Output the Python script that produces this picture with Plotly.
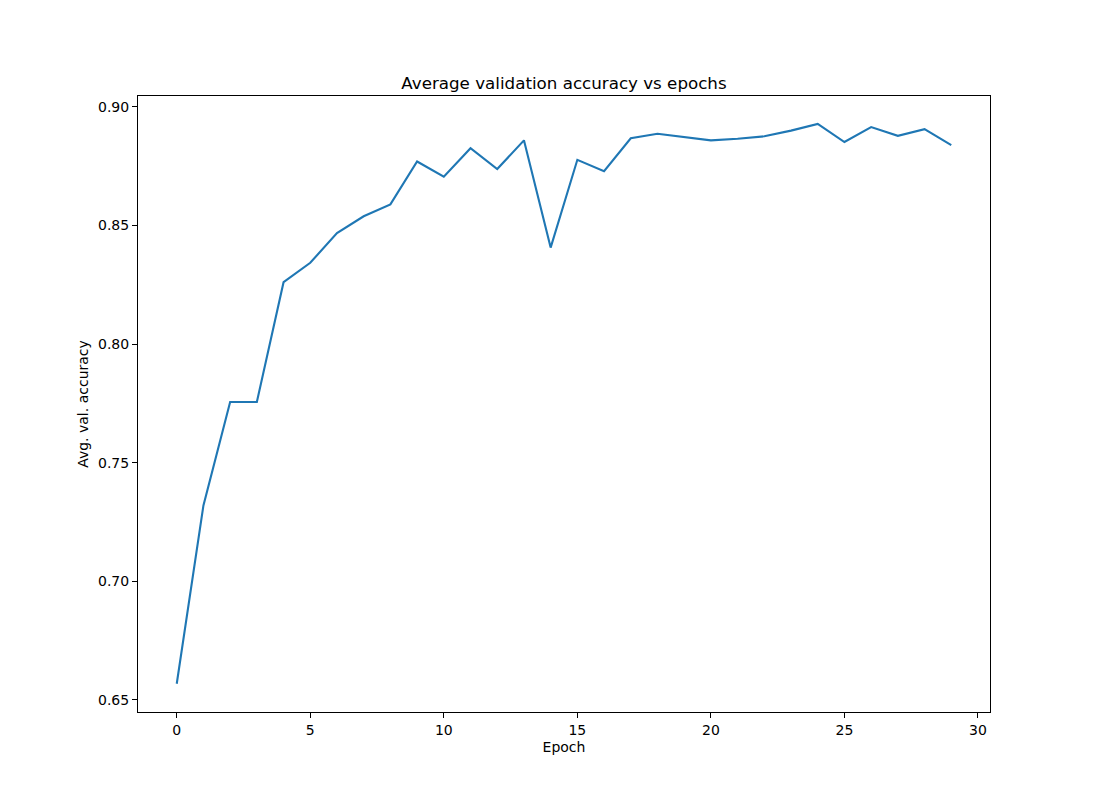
import plotly.graph_objects as go

epochs = list(range(30))
accuracy = [0.6568, 0.7320, 0.7756, 0.7756, 0.8261, 0.8343, 0.8468, 0.8539, 0.8589, 0.8770,
            0.8706, 0.8826, 0.8738, 0.8859, 0.8407, 0.8777, 0.8729, 0.8868, 0.8887, 0.8873,
            0.8859, 0.8866, 0.8876, 0.8900, 0.8928, 0.8852, 0.8915, 0.8878, 0.8906, 0.8839]
x_ticks = [0, 5, 10, 15, 20, 25, 30]
y_ticks = [0.65, 0.70, 0.75, 0.80, 0.85, 0.90]
y_tick_text = ["0.65", "0.70", "0.75", "0.80", "0.85", "0.90"]

fig = go.Figure()
fig.add_trace(go.Scatter(x=epochs, y=accuracy, mode="lines",
                         line=dict(color="#1f77b4", width=2.1), showlegend=False))

font = "DejaVu Sans"
fig.update_layout(
    width=1100, height=800,
    paper_bgcolor="white", plot_bgcolor="white",
    margin=dict(l=130, r=118, t=88, b=96),
    font=dict(family=font, size=14, color="black"),
    title=dict(text="Average validation accuracy vs epochs", x=0.5, xref="paper",
               xanchor="center", y=1 - 75 / 800, yanchor="middle", yref="container",
               font=dict(family=font, size=16.7, color="black")),
)
fig.update_xaxes(range=[-1.45, 30.45], tickvals=x_ticks, ticks="outside", ticklen=5,
                 tickwidth=1, tickcolor="black", showline=True, linecolor="black",
                 linewidth=1, mirror=True, showgrid=False, zeroline=False,
                 title=dict(text="Epoch", standoff=5, font=dict(size=14)),
                 tickfont=dict(size=14))
fig.update_yaxes(range=[0.6449, 0.9046], tickvals=y_ticks, ticktext=y_tick_text,
                 ticks="outside", ticklen=5, tickwidth=1, tickcolor="black",
                 showline=True, linecolor="black", linewidth=1, mirror=True,
                 showgrid=False, zeroline=False,
                 title=dict(text="Avg. val. accuracy", standoff=6, font=dict(size=14)),
                 tickfont=dict(size=14))

fig.write_html("out.html")
